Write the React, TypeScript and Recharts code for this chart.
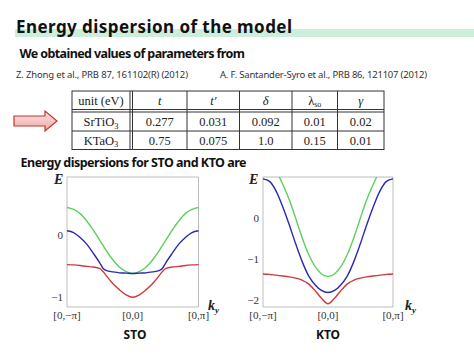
import React from 'react'
import { LineChart, Line, XAxis, YAxis, ReferenceArea } from 'recharts'

// k along [0,-pi] -> [0,0] -> [0,pi], in units of pi
const kPoints = [-1, -0.9, -0.8, -0.7, -0.6, -0.5, -0.45, -0.4, -0.3, -0.2, -0.1, 0, 0.1, 0.2, 0.3, 0.4, 0.45, 0.5, 0.6, 0.7, 0.8, 0.9, 1]

// SrTiO3 bands (eV)
const stoGreen = [0.46, 0.43, 0.36, 0.24, 0.09, -0.08, -0.165, -0.25, -0.4, -0.52, -0.59, -0.62, -0.59, -0.52, -0.4, -0.25, -0.165, -0.08, 0.09, 0.24, 0.36, 0.43, 0.46]
const stoBlue = [0.08, 0.05, -0.03, -0.14, -0.29, -0.45, -0.54, -0.575, -0.595, -0.61, -0.615, -0.62, -0.615, -0.61, -0.595, -0.575, -0.54, -0.45, -0.29, -0.14, -0.03, 0.05, 0.08]
const stoRed = [-0.475, -0.48, -0.49, -0.505, -0.515, -0.54, -0.59, -0.66, -0.79, -0.89, -0.97, -1.01, -0.97, -0.89, -0.79, -0.66, -0.59, -0.54, -0.515, -0.505, -0.49, -0.48, -0.475]

// KTaO3 bands (eV)
const ktoGreen = [1.5, 1.4, 1.15, 0.82, 0.45, 0.0, -0.24, -0.47, -0.88, -1.18, -1.36, -1.42, -1.36, -1.18, -0.88, -0.47, -0.24, 0.0, 0.45, 0.82, 1.15, 1.4, 1.5]
const ktoBlue = [0.94, 0.88, 0.65, 0.28, -0.15, -0.62, -0.84, -1.05, -1.4, -1.62, -1.76, -1.81, -1.76, -1.62, -1.4, -1.05, -0.84, -0.62, -0.15, 0.28, 0.65, 0.88, 0.94]
const ktoRed = [-1.36, -1.37, -1.39, -1.41, -1.43, -1.46, -1.48, -1.51, -1.6, -1.76, -1.95, -2.08, -1.95, -1.76, -1.6, -1.51, -1.48, -1.46, -1.43, -1.41, -1.39, -1.37, -1.36]

const xTicks = [-1, 0, 1]
const xTickLabels = ['[0,\u2212\u03c0]', '[0,0]', '[0,\u03c0]']
const stoTicks = [0, -1]
const ktoTicks = [0, -1, -2]

// parameter table
const materials = ['SrTiO', 'KTaO']
const paramT = ['0.277', '0.75']
const paramT2 = ['0.031', '0.075']
const paramDelta = ['0.092', '1.0']
const paramLambda = ['0.01', '0.15']
const paramGamma = ['0.02', '0.01']

const sans = "'Noto Sans', 'Open Sans', sans-serif"
const serif = "'Liberation Serif', 'DejaVu Serif', serif"

const GREEN = '#5cd05c'
const BLUE = '#2a2aae'
const RED = '#d03a3a'

function toRows(g: number[], b: number[], r: number[]) {
  return kPoints.map((k, i) => ({ k, green: g[i], blue: b[i], red: r[i] }))
}

const fmtY = (v: number) => (v < 0 ? '\u2212' + Math.abs(v) : String(v))
const fmtX = (v: number) => xTickLabels[xTicks.indexOf(v)] ?? ''

interface BandProps {
  data: { k: number; green: number; blue: number; red: number }[]
  domain: [number, number]
  yTicks: number[]
  left: number
  width: number
}

const BandChart: React.FC<BandProps> = ({ data, domain, yTicks, left, width }) => (
  <div style={{ position: 'absolute', left, top: 172 }}>
    <LineChart width={width} height={160} data={data} margin={{ top: 5, right: 20, bottom: 0, left: 0 }}>
      <XAxis
        dataKey="k"
        type="number"
        domain={[-1, 1]}
        ticks={xTicks}
        interval={0}
        tickFormatter={fmtX}
        tickLine={false}
        axisLine={false}
        tickSize={0}
        tickMargin={4}
        height={25}
        tick={{ fontFamily: serif, fontSize: 11, fill: '#333' }}
      />
      <YAxis
        type="number"
        domain={domain}
        allowDataOverflow
        ticks={yTicks}
        interval={0}
        tickFormatter={fmtY}
        tickLine={false}
        axisLine={false}
        tickSize={0}
        tickMargin={4}
        width={40}
        tick={{ fontFamily: serif, fontSize: 11, fill: '#333' }}
      />
      <ReferenceArea x1={-1} x2={1} y1={domain[0]} y2={domain[1]} fill="#fff" fillOpacity={0} stroke="#bdbdbd" strokeWidth={1} />
      <Line type="monotone" dataKey="green" stroke={GREEN} strokeWidth={1.4} dot={false} isAnimationActive={false} />
      <Line type="monotone" dataKey="blue" stroke={BLUE} strokeWidth={1.4} dot={false} isAnimationActive={false} />
      <Line type="monotone" dataKey="red" stroke={RED} strokeWidth={1.4} dot={false} isAnimationActive={false} />
    </LineChart>
  </div>
)

const colX = [72, 130, 132.5, 187, 239.5, 292, 337.5, 384]
const rowY = [91, 109.5, 112, 131, 149.5]
const colC = [101, 159.75, 213.25, 265.75, 314.75, 360.75]

function Table() {
  const bodyRows = [rowY[2], rowY[3]]
  const cols = [paramT, paramT2, paramDelta, paramLambda, paramGamma]
  const txt = { fontFamily: serif, fontSize: 12.5, fill: '#222', textAnchor: 'middle' as const }
  return (
    <g>
      <rect x={colX[0]} y={rowY[0]} width={colX[7] - colX[0]} height={rowY[4] - rowY[0]} fill="none" stroke="#333" strokeWidth={1} />
      {colX.slice(1, 7).map((x) => (
        <line key={x} x1={x} x2={x} y1={rowY[0]} y2={rowY[4]} stroke="#333" strokeWidth={1} />
      ))}
      {rowY.slice(1, 4).map((y) => (
        <line key={y} x1={colX[0]} x2={colX[7]} y1={y} y2={y} stroke="#333" strokeWidth={1} />
      ))}
      <text x={colC[0]} y={104.5} {...txt}>unit (eV)</text>
      <text x={colC[1]} y={104.5} {...txt} fontStyle="italic">t</text>
      <text x={colC[2]} y={104.5} {...txt} fontStyle="italic">t{'\u2032'}</text>
      <text x={colC[3]} y={104.5} {...txt} fontStyle="italic">{'\u03b4'}</text>
      <text x={colC[4]} y={104.5} {...txt}>
        {'\u03bb'}<tspan fontSize={8} dy={2}>so</tspan>
      </text>
      <text x={colC[5]} y={104.5} {...txt} fontStyle="italic">{'\u03b3'}</text>
      {bodyRows.map((y0, r) => {
        const base = y0 + (r === 0 ? 14 : 13.5)
        return (
          <g key={r}>
            <text x={colC[0]} y={base} {...txt}>
              {materials[r]}<tspan fontSize={8.5} dy={2.5}>3</tspan>
            </text>
            {cols.map((c, i) => (
              <text key={i} x={colC[i + 1]} y={base} {...txt}>{c[r]}</text>
            ))}
          </g>
        )
      })}
    </g>
  )
}

export default function App() {
  return (
    <div style={{ position: 'fixed', left: 0, top: 0, width: 474, height: 355, background: '#fff', overflow: 'hidden' }}>
      <svg width={474} height={355} style={{ position: 'absolute', left: 0, top: 0 }}>
        <defs>
          <linearGradient id="arrowFill" x1="0" y1="0" x2="0" y2="1">
            <stop offset="0" stopColor="#fde6e6" />
            <stop offset="1" stopColor="#eea6a6" />
          </linearGradient>
        </defs>
        <rect x={15} y={29} width={459} height={8} fill="#cdeedb" />
        <text x={16} y={32.5} fontFamily={sans} fontWeight={700} fontSize={17} fill="#111" textLength={276} lengthAdjust="spacing">
          Energy dispersion of the model
        </text>
        <text x={19.5} y={58} fontFamily={sans} fontWeight={700} fontSize={12.5} fill="#111" textLength={225.5} lengthAdjust="spacing">
          We obtained values of parameters from
        </text>
        <text x={16} y={78} fontFamily={sans} fontSize={9.5} fill="#333" textLength={172} lengthAdjust="spacing">
          Z. Zhong et al., PRB 87, 161102(R) (2012)
        </text>
        <text x={220} y={78} fontFamily={sans} fontSize={9.5} fill="#333" textLength={207} lengthAdjust="spacing">
          A. F. Santander-Syro et al., PRB 86, 121107 (2012)
        </text>
        <polygon points="14,116 45,116 45,111 57,121 45,131 45,126 14,126" fill="url(#arrowFill)" stroke="#c0392b" strokeWidth={1.2} />
        <Table />
        <text x={20.5} y={166.5} fontFamily={sans} fontWeight={700} fontSize={12.5} fill="#111" textLength={226} lengthAdjust="spacing">
          Energy dispersions for STO and KTO are
        </text>
        <text x={54} y={184} fontFamily={serif} fontStyle="italic" fontWeight={700} fontSize={14} fill="#222">E</text>
        <text x={249} y={184} fontFamily={serif} fontStyle="italic" fontWeight={700} fontSize={14} fill="#222">E</text>
        <text x={208} y={309.5} fontFamily={serif} fontStyle="italic" fontWeight={700} fontSize={14} fill="#222">
          k<tspan fontSize={9} dy={3}>y</tspan>
        </text>
        <text x={405} y={309.5} fontFamily={serif} fontStyle="italic" fontWeight={700} fontSize={14} fill="#222">
          k<tspan fontSize={9} dy={3}>y</tspan>
        </text>
        <text x={135} y={339.3} fontFamily={sans} fontWeight={700} fontSize={12} fill="#111" textAnchor="middle">STO</text>
        <text x={328} y={339.3} fontFamily={sans} fontWeight={700} fontSize={12} fill="#111" textAnchor="middle">KTO</text>
      </svg>
      <BandChart data={toRows(stoGreen, stoBlue, stoRed)} domain={[-1.17, 0.96]} yTicks={stoTicks} left={27} width={191.5} />
      <BandChart data={toRows(ktoGreen, ktoBlue, ktoRed)} domain={[-2.16, 0.985]} yTicks={ktoTicks} left={222.5} width={190} />
    </div>
  )
}
